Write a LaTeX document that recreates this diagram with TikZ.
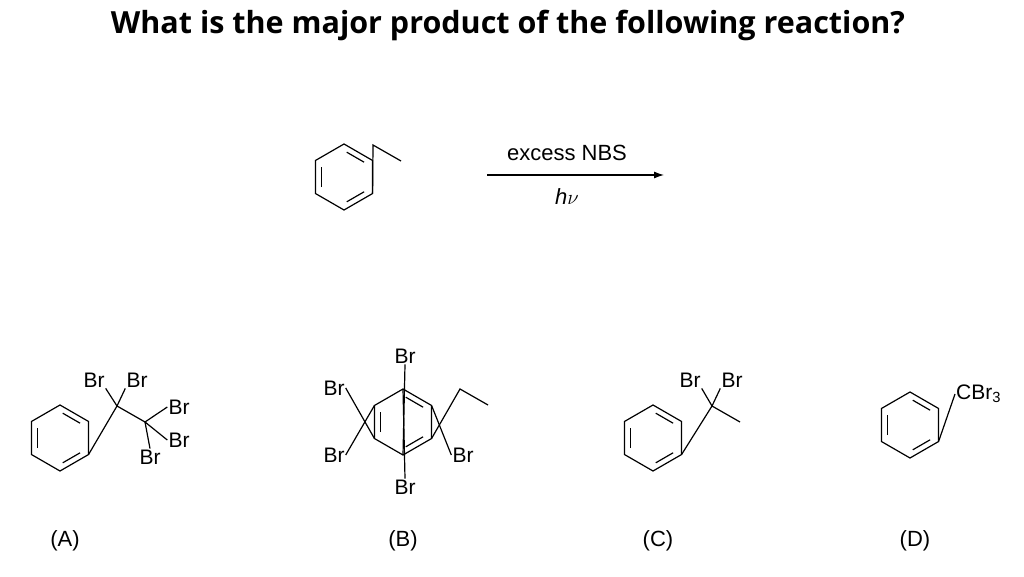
\documentclass[tikz,border=0pt]{standalone}
\usepackage{fontspec}
\setmainfont{Liberation Sans}
\newfontfamily\titlefont{Open Sans}
\usetikzlibrary{calc,arrows.meta}
\tikzset{x=1pt,y=-1pt,
 bond/.style={line width=1.2pt},
 atom/.style={inner sep=1pt,font=\fontsize{21}{21}\selectfont},
 lab/.style={font=\fontsize{22}{22}\selectfont}}
\newcommand{\benz}[3]{% name, cx, cy
 \begin{scope}[shift={(#2,#3)}]
 \foreach \a [count=\i] in {30,90,150,210,270,330}{\coordinate (#1\i) at (\a:33);}
 \draw[bond] (#11)--(#12)--(#13)--(#14)--(#15)--(#16)--cycle;
 \draw[bond] ($(0,0)!0.8!(#11)!0.12!($(0,0)!0.8!(#12)$)$)--($(0,0)!0.8!(#11)!0.88!($(0,0)!0.8!(#12)$)$);
 \draw[bond] ($(0,0)!0.8!(#13)!0.12!($(0,0)!0.8!(#14)$)$)--($(0,0)!0.8!(#13)!0.88!($(0,0)!0.8!(#14)$)$);
 \draw[bond] ($(0,0)!0.8!(#15)!0.12!($(0,0)!0.8!(#16)$)$)--($(0,0)!0.8!(#15)!0.88!($(0,0)!0.8!(#16)$)$);
 \end{scope}}
\begin{document}
\begin{tikzpicture}
\useasboundingbox (0,0) rectangle (1024,577);
\node[font=\titlefont\bfseries\fontsize{30.5}{30.5}\selectfont] (title) at (508,25) {What is the major product of the following reaction?};
% starting material
\benz{s}{344}{177}
\coordinate (s7) at (373,145); \coordinate (s8) at (401,161);
\draw[bond] (s1)--(s7)--(s8);
\coordinate (a0) at (487,175); \coordinate (a1) at (664,175);
\draw[line width=1.1pt,-{Latex[length=10pt,width=7pt]}] (a0)--(a1);
\node[lab] (nbs) at (567,153) {excess NBS};
\node[lab] (hv) at (567,197) {\itshape h\/$\nu$};
% A
\benz{A}{60}{438}
\coordinate (AC) at (117,406); \coordinate (AD) at (145,422);
\node[atom] (ab1) at (94,380) {Br}; \node[atom] (ab2) at (137,380) {Br};
\node[atom] (ab3) at (179,407) {Br}; \node[atom] (ab4) at (179,440) {Br};
\node[atom] (ab5) at (150,457) {Br};
\draw[bond] (A1)--(AC)--(AD);
\draw[bond] (AC)--(ab1.south east); \draw[bond] (AC)--(ab2.south west);
\draw[bond] (AD)--(ab3.west); \draw[bond] (AD)--(ab4.west); \draw[bond] (AD)--(ab5.north);
% B
\benz{B}{403}{422}
\coordinate (Be1) at (460,389); \coordinate (Be2) at (488,405);
\draw[bond] (B1)--(Be1)--(Be2);
\node[atom] (bb1) at (405,356) {Br}; \node[atom] (bb2) at (334,388) {Br};
\node[atom] (bb3) at (334,455) {Br}; \node[atom] (bb4) at (463,455) {Br};
\node[atom] (bb5) at (405,487) {Br};
\draw[bond] (B2)--(bb1.south); \draw[bond] (B3)--(bb2.east);
\draw[bond] (B4)--(bb3.east); \draw[bond] (B6)--(bb4.west); \draw[bond] (B5)--(bb5.north);
% C
\benz{C}{653}{438}
\coordinate (CC) at (712,406); \coordinate (CM) at (740,422);
\node[atom] (cb1) at (690,380) {Br}; \node[atom] (cb2) at (732,380) {Br};
\draw[bond] (C1)--(CC)--(CM);
\draw[bond] (CC)--(cb1.south east); \draw[bond] (CC)--(cb2.south west);
% D
\benz{D}{910}{425}
\node[atom,anchor=west] (db) at (955,394) {CBr\textsubscript{3}};
\draw[bond] (D1)--(db.west);
% labels
\node[lab] (lA) at (65,541) {(A)}; \node[lab] (lB) at (403,541) {(B)};
\node[lab] (lC) at (658,541) {(C)}; \node[lab] (lD) at (915,541) {(D)};
\end{tikzpicture}
\end{document}
